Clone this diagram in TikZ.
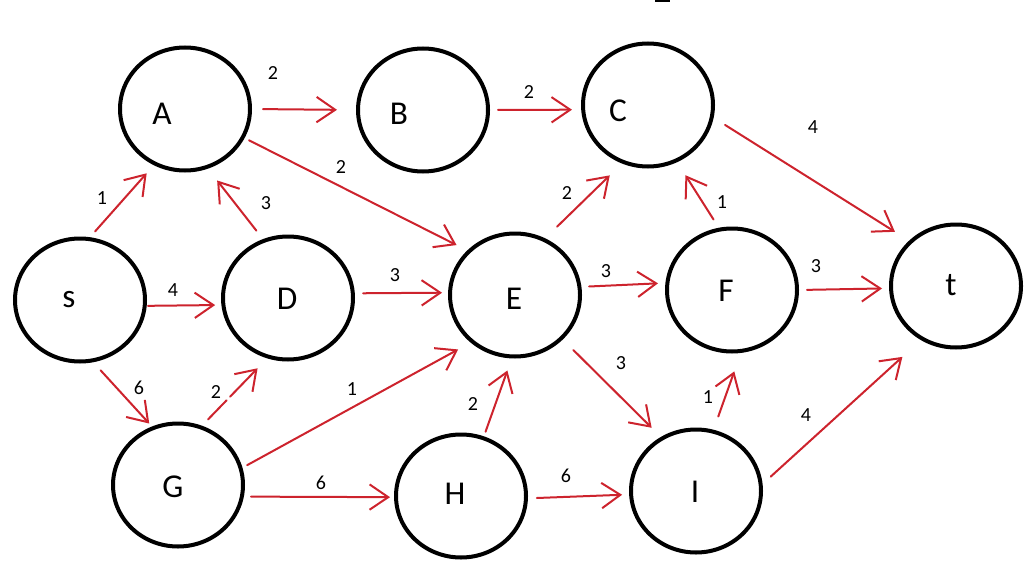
\documentclass[tikz,border=0pt]{standalone}
\usepackage{fontspec}
\setmainfont{Carlito}
\usetikzlibrary{shapes.geometric,arrows.meta}
\definecolor{edgered}{RGB}{205,35,45}
\begin{document}
\begin{tikzpicture}[x=0.75pt,y=-0.75pt,
  vtx/.style={draw=black,line width=3pt,ellipse,minimum width=97.5pt,minimum height=92.25pt,inner sep=0pt,outer sep=1.5pt},
  lbl/.style={font=\fontsize{25}{25}\selectfont,inner sep=0pt},
  wt/.style={font=\fontsize{15}{15}\selectfont,inner sep=0pt},
  edge/.style={draw=edgered,line width=1.5pt,line cap=round,line join=round,
    -{Straight Barb[length=14pt,width=19pt,line width=1.5pt]}}]
\useasboundingbox (0,0) rectangle (1024,567);
\fill[black] (655,0) rectangle (670,2);
% vertices
\node[vtx] (s) at (80,300) {};
\node[vtx] (A) at (185,109) {};
\node[vtx] (B) at (423,110) {};
\node[vtx] (C) at (648,105) {};
\node[vtx] (D) at (288,298) {};
\node[vtx] (E) at (515,295) {};
\node[vtx] (F) at (732,290) {};
\node[vtx] (t) at (956,286) {};
\node[vtx] (G) at (178,485) {};
\node[vtx] (H) at (461,496) {};
\node[vtx] (I) at (696,491) {};
% vertex letters
\node[lbl] (sl) at (69,300) {s};
\node[lbl] (Al) at (162,114) {A};
\node[lbl] (Bl) at (399,114) {B};
\node[lbl] (Cl) at (618,111) {C};
\node[lbl] (Dl) at (287,299) {D};
\node[lbl] (El) at (514,299) {E};
\node[lbl] (Fl) at (726,291) {F};
\node[lbl] (tl) at (951,285) {t};
\node[lbl] (Gl) at (173,487) {G};
\node[lbl] (Hl) at (455,494) {H};
\node[lbl] (Il) at (695,492) {I};
% edges
\draw[edge,shorten <=8.25pt,shorten >=14.25pt] (A.0) -- (B.180);
\draw[edge,shorten <=3.75pt,shorten >=9pt] (A.-26) -- (E.137);
\draw[edge,shorten <=5.8pt,shorten >=8.1pt] (s.81) -- (A.241);
\draw[edge,shorten <=8pt,shorten >=11.25pt] (D.113) -- (A.-69);
\draw[edge,shorten <=1pt,shorten >=4.7pt] (s.-5) -- (D.186);
\draw[edge,shorten <=6.2pt,shorten >=4.5pt] (D.4) -- (E.178);
\draw[edge,shorten <=8.25pt,shorten >=3pt] (s.-78) -- (G.114);
\draw[edge,shorten <=6.5pt,shorten >=10.35pt,dash pattern=on 20pt off 3.75pt on 60pt off 0pt] (G.68) -- (D.251);
\draw[edge,shorten <=4pt,shorten >=10.7pt] (G.15) -- (E.227);
\draw[edge,shorten <=5.4pt,shorten >=3pt] (G.-10) -- (H.181);
\draw[edge,shorten <=3.7pt,shorten >=9.6pt] (H.69) -- (E.267);
\draw[edge,shorten <=6.75pt,shorten >=5.25pt] (H.-2) -- (I.183);
\draw[edge,shorten <=6pt,shorten >=6.9pt] (B.0) -- (C.184);
\draw[edge,shorten <=12.5pt,shorten >=12.75pt] (E.62) -- (C.246);
\draw[edge,shorten <=7.3pt,shorten >=11.6pt] (F.102) -- (C.-63);
\draw[edge,shorten <=5.8pt,shorten >=5.55pt] (E.7) -- (F.174);
\draw[edge,shorten <=11.2pt,shorten >=9.75pt] (E.-43) -- (I.123);
\draw[edge,shorten <=10.5pt,shorten >=14.7pt] (I.74) -- (F.-82);
\draw[edge,shorten <=8.25pt,shorten >=18.75pt] (I.6) -- (t.237);
\draw[edge,shorten <=10.1pt,shorten >=12.5pt] (C.-11) -- (t.136);
\draw[edge,shorten <=6pt,shorten >=5.25pt] (F.0) -- (t.182);
% weights
\node[wt] (wAB) at (273,73) {2};
\node[wt] (wAE) at (341,167) {2};
\node[wt] (wsA) at (102,198) {1};
\node[wt] (wDA) at (266,203) {3};
\node[wt] (wsD) at (173,290) {4};
\node[wt] (wDE) at (395,275) {3};
\node[wt] (wsG) at (139,388) {6};
\node[wt] (wGD) at (216,392) {2};
\node[wt] (wGE) at (352,389) {1};
\node[wt] (wGH) at (321,483) {6};
\node[wt] (wHE) at (473,404) {2};
\node[wt] (wHI) at (566,476) {6};
\node[wt] (wBC) at (529,92) {2};
\node[wt] (wEC) at (567,193) {2};
\node[wt] (wFC) at (722,202) {1};
\node[wt] (wEF) at (606,271) {3};
\node[wt] (wEI) at (621,363) {3};
\node[wt] (wIF) at (708,397) {1};
\node[wt] (wIt) at (806,415) {4};
\node[wt] (wCt) at (813,127) {4};
\node[wt] (wFt) at (816,266) {3};
\end{tikzpicture}
\end{document}
